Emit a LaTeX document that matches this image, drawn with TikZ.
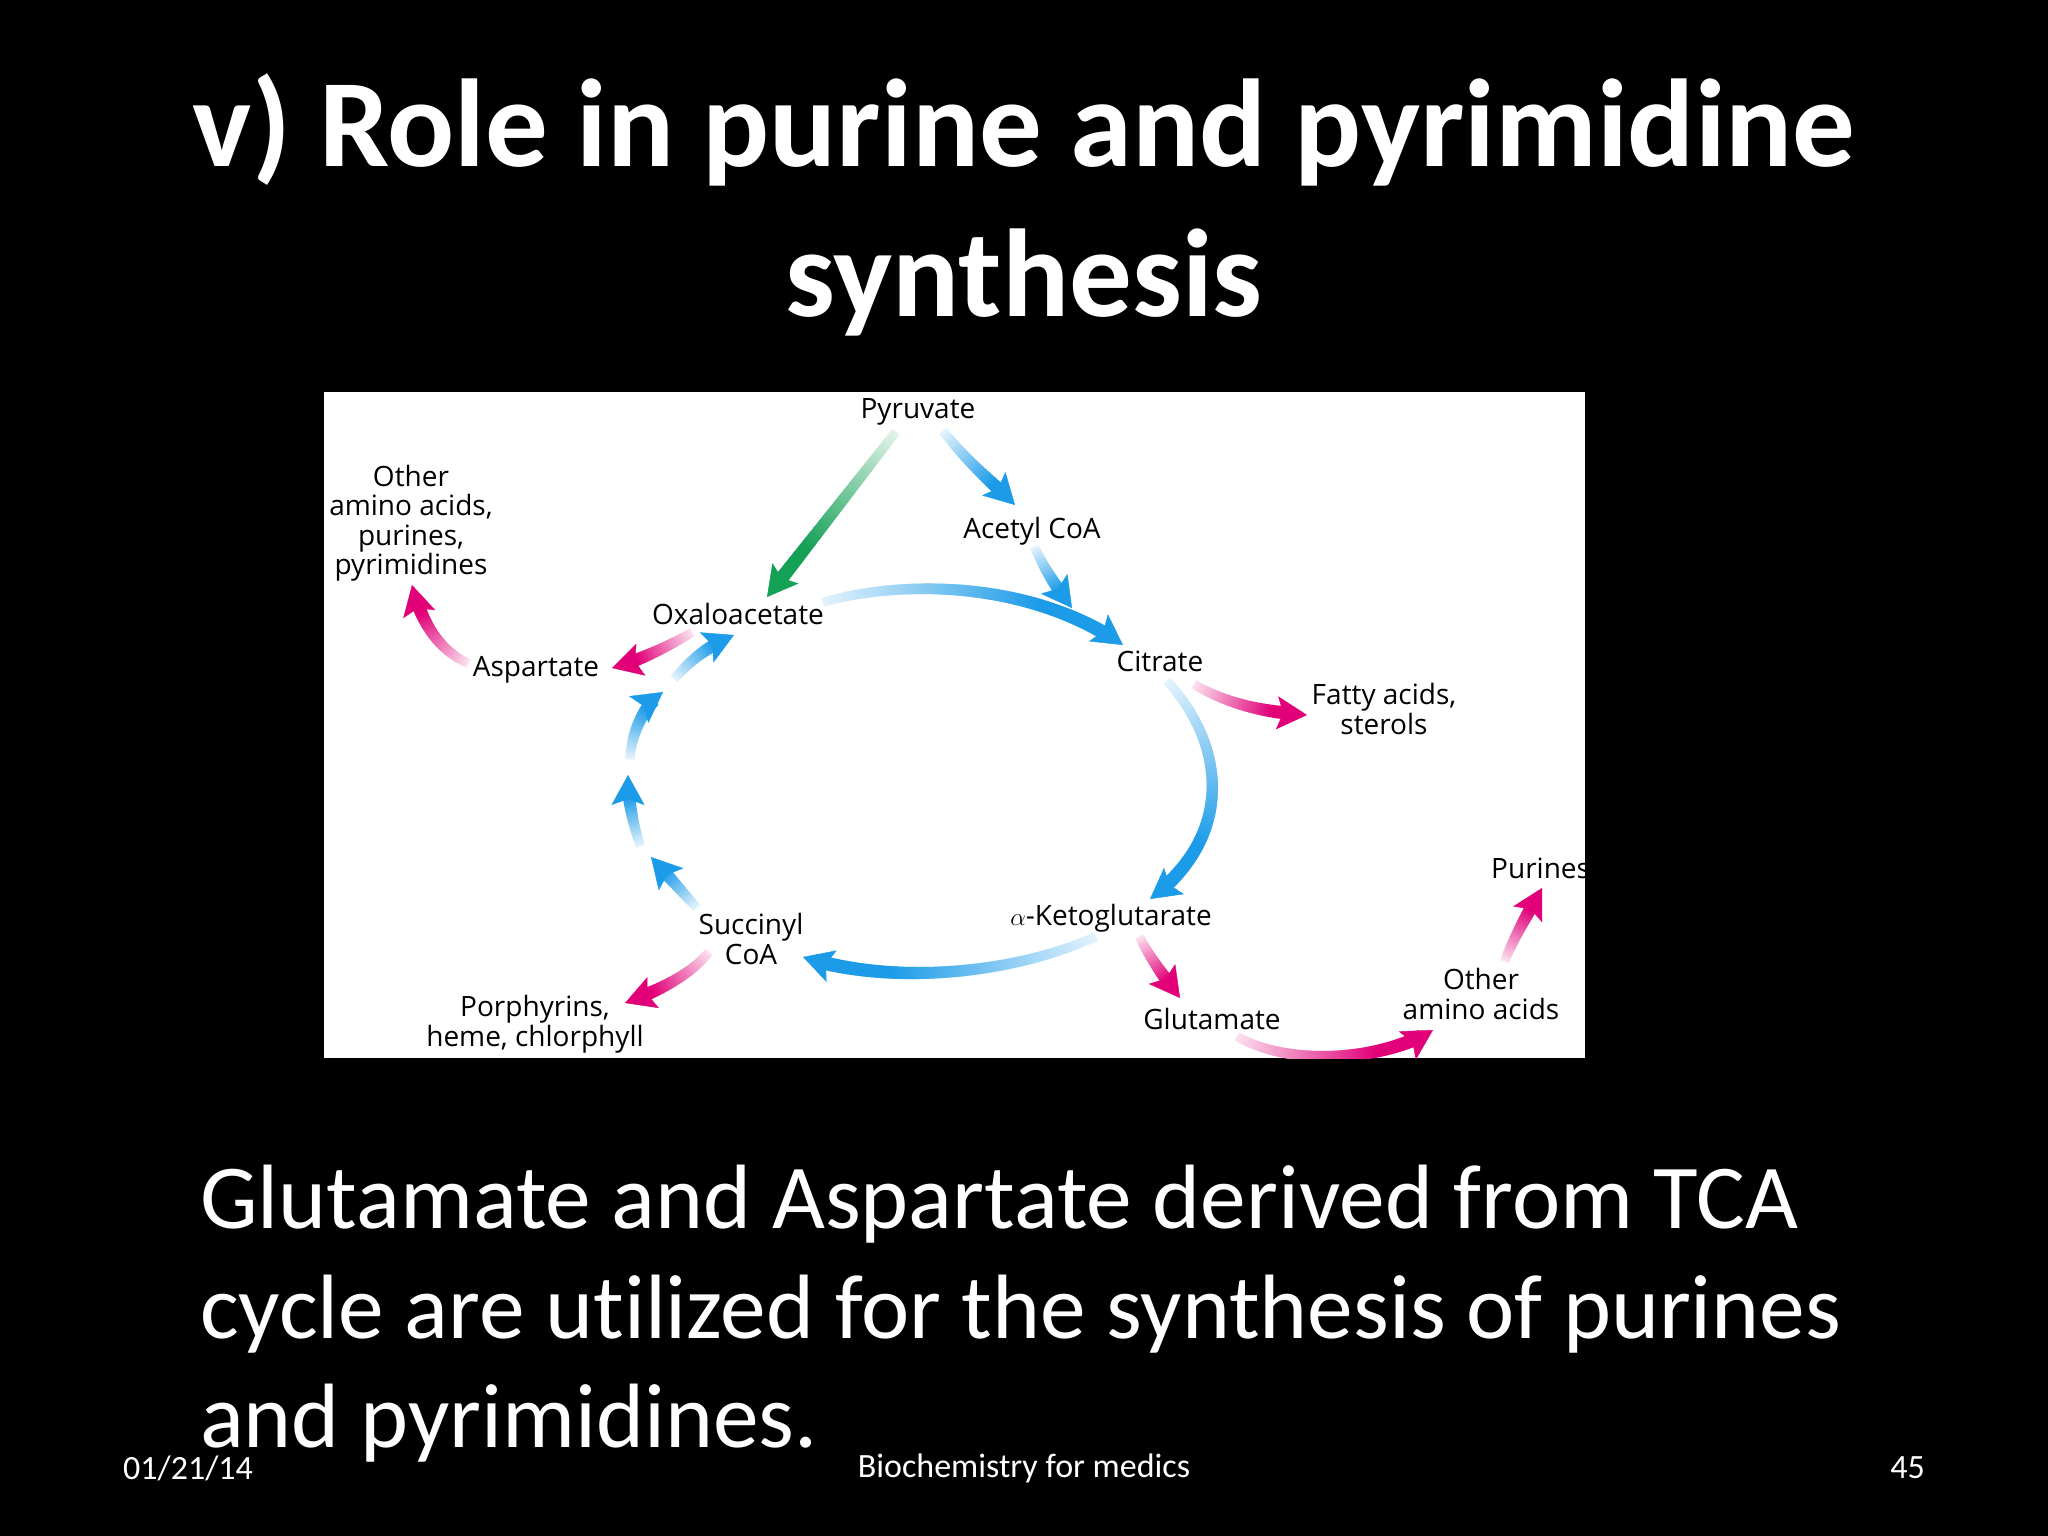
\documentclass[tikz,border=0pt]{standalone}
\usepackage{fontspec}
\setmainfont[Ligatures=NoCommon]{Carlito}
\newfontfamily\figfont{Open Sans}
\usepackage{tikz}
\usetikzlibrary{decorations.markings,arrows.meta}
\definecolor{flowblue}{RGB}{27,155,232}
\definecolor{flowpink}{RGB}{225,0,120}
\definecolor{flowgreen}{RGB}{20,160,85}

\begin{document}
\begin{tikzpicture}[x=1pt,y=-1pt]
	\tikzstyle{lbl} = [font=\figfont\fontsize{28}{29.5}\selectfont, text=black, align=center, inner sep=0pt]
	\tikzstyle{foot} = [font=\fontsize{34}{40}\selectfont, text=white, inner sep=0pt]
	\tikzstyle{flow} = [decoration={markings,
		mark=between positions 0 and -14pt step 2pt with {
			\pgfmathsetmacro\flowpos{\pgfkeysvalueof{/pgf/decoration/mark info/distance from start}/\pgfdecoratedpathlength}
			\pgfmathsetmacro\pct{min(100,12+125*\flowpos)}
			\pgfmathsetmacro\hw{4.5+2.5*\flowpos}
			\fill[color=#1!\pct!white] (-1.5pt,-\hw pt) rectangle (1.5pt,\hw pt);}},
		postaction={decorate},
		postaction={tips, -{Stealth[length=30pt,width=33pt,inset=6pt,color=#1]}}]
\useasboundingbox (0,0) rectangle (2048,1536);
\fill[black] (0,0) rectangle (2048,1536);
\node[font=\bfseries\fontsize{125}{150}\selectfont, text=white, align=center, inner sep=0pt] (title) at (1024,205) {v) Role in purine and pyrimidine\\synthesis};
\fill[white] (324,392) rectangle (1585,1058);
\begin{scope}
\clip (324,392) rectangle (1585,1058);
\node[lbl] (pyruvate) at (918,412) {Pyruvate};
\node[lbl] (acetyl) at (1032,531) {Acetyl CoA};
\node[lbl] (oxalo) at (738,614) {Oxaloacetate};
\node[lbl] (citrate) at (1160,661) {Citrate};
\node[lbl] (fatty) at (1384,709) {Fatty acids,\\sterols};
\node[lbl] (keto) at (1111,918) {$\alpha$-Ketoglutarate};
\node[lbl] (glutamate) at (1212,1019) {Glutamate};
\node[lbl] (otheraa) at (1481,994) {Other\\amino acids};
\node[lbl, anchor=west] (purines) at (1491,868) {Purines};
\node[lbl] (succinyl) at (751,939) {Succinyl\\CoA};
\node[lbl] (porph) at (535,1024) {Porphyrins,\\heme, chlorphyll};
\node[lbl] (aspartate) at (536,670) {Aspartate};
\node[lbl] (otherall) at (411,523) {Other\\amino acids,\\purines,\\pyrimidines};
	\path[flow=flowgreen] ([shift={(-23,21)}]pyruvate.center) -- ([shift={(29,-17)}]oxalo.center);
	\path[flow=flowblue] ([shift={(26,20)}]pyruvate.center) .. controls (970,465) and (990,480) .. ([shift={(-17,-26)}]acetyl.center);
	\path[flow=flowblue] ([shift={(3,17)}]acetyl.center) .. controls (1045,570) and (1055,585) .. ([shift={(40,77)}]acetyl.center);
	\path[flow=flowblue] ([shift={(86,-12)}]oxalo.center) .. controls (900,580) and (1030,580) .. ([shift={(-37,-16)}]citrate.center);
	\path[flow=flowblue] ([shift={(8,21)}]citrate.center) .. controls (1225,745) and (1235,835) .. ([shift={(39,-19)}]keto.center);
	\path[flow=flowblue] ([shift={(-16,19)}]keto.center) .. controls (1010,975) and (890,985) .. ([shift={(52,18)}]succinyl.center);
	\path[flow=flowblue] ([shift={(-55,-32)}]succinyl.center) -- ([shift={(-100,-82)}]succinyl.center);
	\path[flow=flowblue] ([shift={(-111,-94)}]succinyl.center) .. controls (632,820) and (628,800) .. ([shift={(-123,-164)}]succinyl.center);
	\path[flow=flowblue] ([shift={(-108,144)}]oxalo.center) .. controls (632,730) and (645,705) .. ([shift={(-75,78)}]oxalo.center);
	\path[flow=flowblue] ([shift={(-63,64)}]oxalo.center) .. controls (695,655) and (712,645) .. ([shift={(-4,21)}]oxalo.center);
	\path[flow=flowpink] ([shift={(-47,19)}]oxalo.center) .. controls (665,648) and (640,660) .. ([shift={(-126,54)}]oxalo.center);
	\path[flow=flowpink] ([shift={(-69,-7)}]aspartate.center) .. controls (440,650) and (422,625) .. ([shift={(1,62)}]otherall.center);
	\path[flow=flowpink] ([shift={(35,24)}]citrate.center) .. controls (1230,705) and (1265,712) .. ([shift={(-77,6)}]fatty.center);
	\path[flow=flowpink] ([shift={(-43,14)}]succinyl.center) .. controls (690,975) and (660,990) .. ([shift={(90,-21)}]porph.center);
	\path[flow=flowpink] ([shift={(29,20)}]keto.center) .. controls (1150,958) and (1165,978) .. ([shift={(-32,-21)}]glutamate.center);
	\path[flow=flowpink] ([shift={(26,18)}]glutamate.center) .. controls (1290,1066) and (1380,1062) .. ([shift={(-48,36)}]otheraa.center);
	\path[flow=flowpink] ([shift={(24,-34)}]otheraa.center) .. controls (1515,935) and (1530,910) .. ([shift={(51,20)}]purines.west);
\end{scope}
\node[font=\fontsize{91.4}{109.5}\selectfont, text=white, align=left, anchor=west, inner sep=0pt] (body) at (200,1314) {Glutamate and Aspartate derived from TCA\\cycle are utilized for the synthesis of purines\\and pyrimidines.};
\node[foot, anchor=west] (date) at (123,1468) {01/21/14};
\node[foot] (course) at (1024,1468) {Biochemistry for medics};
\node[foot, anchor=east] (page) at (1925,1468) {45};
\end{tikzpicture}
\end{document}
